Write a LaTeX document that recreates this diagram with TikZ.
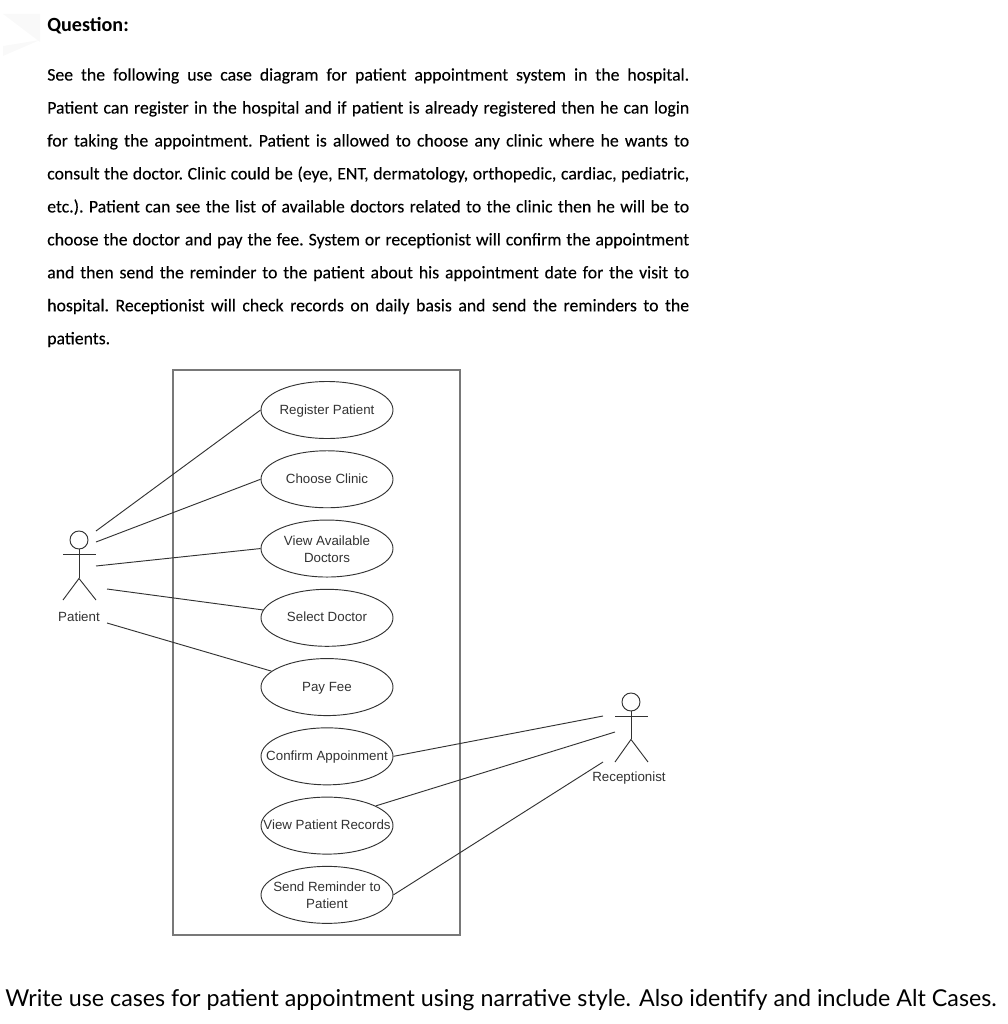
\documentclass[tikz,border=0pt]{standalone}
\usepackage{fontspec}
\setmainfont{Carlito}
\newfontfamily\storyfont[FakeBold=0.15]{Carlito}
\newfontfamily\diagramfont{Liberation Sans}
\newfontfamily\footfont{Lato}
\usetikzlibrary{shapes.geometric, positioning}
\definecolor{framegray}{RGB}{120,120,120}
\definecolor{inkgray}{RGB}{50,50,50}
\definecolor{markgray}{RGB}{249,249,249}
\tikzset{
    usecase/.style={ellipse, draw=inkgray, line width=0.7pt, minimum width=99pt, minimum height=42.75pt, inner xsep=-14pt, inner ysep=0pt, text height=8pt, text depth=2pt, align=center, font=\diagramfont\fontsize{10}{12.75}\selectfont, text=inkgray},
    twolines/.style={text height=22.5pt},
    actorhead/.style={circle, draw=inkgray, line width=0.7pt, minimum size=13.5pt, inner sep=0pt},
    actorlabel/.style={font=\diagramfont\fontsize{10}{12.75}\selectfont, text=inkgray, inner sep=0pt},
    limb/.style={draw=inkgray, line width=0.7pt},
    link/.style={draw=inkgray, line width=0.7pt},
}

\begin{document}
\begin{tikzpicture}[x=0.75pt, y=-0.75pt]
\useasboundingbox (0,0) rectangle (1007,1024);

% Faint mark in the corner
\fill[markgray] (3,14) -- (40,14) -- (40,42) -- cycle;
\fill[markgray] (3,46) -- (40,40) -- (3,56) -- cycle;

% Question text
\node[anchor=base west, inner sep=0pt, font=\bfseries\fontsize{15.1}{17}\selectfont] (question) at (47,32) {Question:};
\node[anchor=north west, inner sep=0pt, text width=481.5pt, align=justify, font=\storyfont\frenchspacing\fontsize{13.3}{24.72}\selectfont] (story) at (47,68) {%
See the following use case diagram for patient appointment system in the hospital.\linebreak
Patient can register in the hospital and if patient is already registered then he can login\linebreak
for taking the appointment. Patient is allowed to choose any clinic where he wants to\linebreak
consult the doctor. Clinic could be (eye, ENT, dermatology, orthopedic, cardiac, pediatric,\linebreak
etc.). Patient can see the list of available doctors related to the clinic then he will be to\linebreak
choose the doctor and pay the fee. System or receptionist will confirm the appointment\linebreak
and then send the reminder to the patient about his appointment date for the visit to\linebreak
hospital. Receptionist will check records on daily basis and send the reminders to the\linebreak
patients.};

% Use cases
\node[usecase] (register) at (327,410) {Register Patient};
\node[usecase, below=8.5pt of register] (clinic) {Choose Clinic};
\node[usecase, twolines, below=8.5pt of clinic] (doctors) {View Available\\Doctors};
\node[usecase, below=8.5pt of doctors] (select) {Select Doctor};
\node[usecase, below=8.5pt of select] (fee) {Pay Fee};
\node[usecase, below=8.5pt of fee] (confirm) {Confirm Appoinment};
\node[usecase, below=8.5pt of confirm] (records) {View Patient Records};
\node[usecase, twolines, below=8.5pt of records] (reminder) {Send Reminder to\\Patient};

% System frame
\draw[framegray, line width=1.1pt] (173,370) rectangle (460,935);

% Patient actor
\node[actorhead] (patient-head) at (79,540) {};
\draw[limb] (patient-head.south) -- ++(0,29) coordinate (patient-hip);
\draw[limb] (63,554) -- (96,554);
\draw[limb] (63,600) -- (patient-hip) -- (96,600);
\node[actorlabel] (patient-label) at (79,617) {Patient};

% Receptionist actor
\node[actorhead] (desk-head) at (631,702) {};
\draw[limb] (desk-head.south) -- ++(0,28) coordinate (desk-hip);
\draw[limb] (615,716) -- (648,716);
\draw[limb] (615,762) -- (desk-hip) -- (648,762);
\node[actorlabel] (desk-label) at (629,778) {Receptionist};

% Free ends near the actors
\coordinate (p1) at (96,531);
\coordinate (p2) at (96,542);
\coordinate (p3) at (96,566);
\coordinate (p4) at (107,589);
\coordinate (p5) at (107,623);
\coordinate (r1) at (603,716);
\coordinate (r2) at (615,732);
\coordinate (r3) at (603,762);

% Connectors
\draw[link] (p1) -- (register.west);
\draw[link] (p2) -- (clinic.west);
\draw[link] (p3) -- (doctors.west);
\draw[link] (p4) -- (select.173);
\draw[link] (p5) -- (fee.164);
\draw[link] (r1) -- (confirm.east);
\draw[link] (r2) -- (records.22);
\draw[link] (r3) -- (reminder.east);

% Task line
\node[anchor=base west, inner sep=0pt, font=\footfont\fontsize{17.44}{20}\selectfont] (task) at (5,1006) {Write use cases for patient appointment using narrative style. Also identify and include Alt Cases.};

\end{tikzpicture}
\end{document}
